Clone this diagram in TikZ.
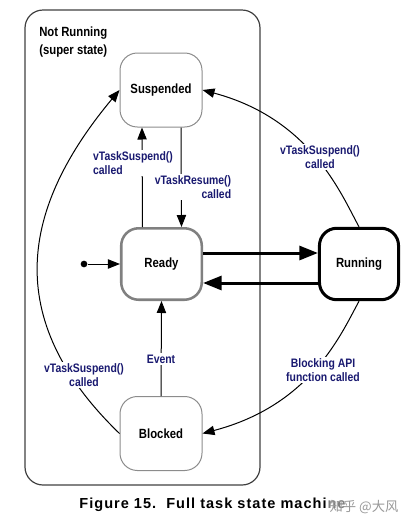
\documentclass[tikz,border=0pt]{standalone}
\usepackage{fontspec}
\setmainfont{Liberation Sans}[FakeStretch=0.85]
\newfontfamily\capfont{Liberation Sans}[LetterSpace=7]
\newfontfamily\cjkfont{Noto Sans CJK SC}
\usetikzlibrary{arrows.meta}
\definecolor{lblblue}{RGB}{25,25,112}
\begin{document}
\begin{tikzpicture}[x=0.75pt,y=-0.75pt,
  statebox/.style={draw, rounded corners=13pt, minimum width=61.5pt, minimum height=55.5pt,
    inner sep=0pt, font=\fontsize{10}{12}\selectfont\bfseries},
  lightstate/.style={statebox, draw=black!45, line width=0.75pt},
  lbl/.style={font=\fontsize{9.2}{10.5}\selectfont\bfseries, text=lblblue, fill=white,
    inner sep=1pt, align=center},
  arr/.style={-{Triangle[length=9pt,width=7pt]}, line width=0.75pt},
  bigarr/.style={-{Triangle[length=14pt,width=10.5pt]}, line width=2.25pt}]
\useasboundingbox (0,0) rectangle (415,529);
% super state container
\node[draw=black!75, line width=0.9pt, rounded corners=13.5pt, minimum width=176.25pt,
  minimum height=356.25pt, inner sep=0pt] (notrunning) at (142.5,247.5) {};
\node[anchor=north west, align=left, inner sep=0pt,
  font=\fontsize{10}{13.5}\selectfont\bfseries] (title) at (39,27) {Not Running\\(super state)};
% states
\node[lightstate] (Suspended) at (161,90) {Suspended};
\node[statebox, draw=black!50, line width=1.9pt, minimum width=60.4pt, minimum height=53.6pt] (Ready) at (161.5,264) {Ready};
\node[statebox, draw=black, line width=2.25pt, minimum width=59.3pt, minimum height=53.6pt] (Running) at (359,264) {Running};
\node[lightstate] (Blocked) at (161,433.5) {Blocked};
\node[circle, fill=black, inner sep=0pt, minimum size=5pt] (init) at (84,264) {};
% connectors
\draw[arr] (init) -- (Ready.west);
\draw[bigarr] ([yshift=8.25pt]Ready.east) -- ([yshift=8.25pt]Running.west);
\draw[bigarr] ([yshift=-14.25pt]Running.west) -- ([yshift=-14.25pt]Ready.east);
\draw[arr] ([xshift=-14.25pt]Ready.north) -- ([xshift=-14.25pt]Suspended.south);
\draw[arr] ([xshift=15pt]Suspended.south) -- ([xshift=15pt]Ready.north);
\draw[arr] (Blocked.north) -- (Ready.south);
\draw[arr] (Blocked.west) .. controls (0,318) and (22,207) .. (Suspended.west);
\draw[arr] (Running.north) .. controls (341,194) and (311,119) .. (Suspended.east);
\draw[arr] (Running.south) .. controls (341,334) and (311,405) .. (Blocked.east);
% labels
\node[lbl, align=left] (l1) at (133,163) {vTaskSuspend()\\called};
\node[lbl, align=right] (l2) at (193,187) {vTaskResume()\\called};
\node[lbl] (l3) at (161,359) {Event};
\node[lbl] (l4) at (84,375) {vTaskSuspend()\\called};
\node[lbl] (l5) at (320,157) {vTaskSuspend()\\called};
\node[lbl] (l6) at (323,370) {Blocking API\\function called};
% caption
\node[font=\capfont\fontsize{10.9}{13}\selectfont\bfseries, inner sep=0pt] (cap) at (212.5,505) {Figure 15.\ \ Full task state machine};
\node[font=\cjkfont\fontsize{10}{12}\selectfont, text=black!40, fill=white, fill opacity=0.5,
  text opacity=1, inner sep=1pt] (wm) at (364,507) {知乎 @大风};
\end{tikzpicture}
\end{document}
